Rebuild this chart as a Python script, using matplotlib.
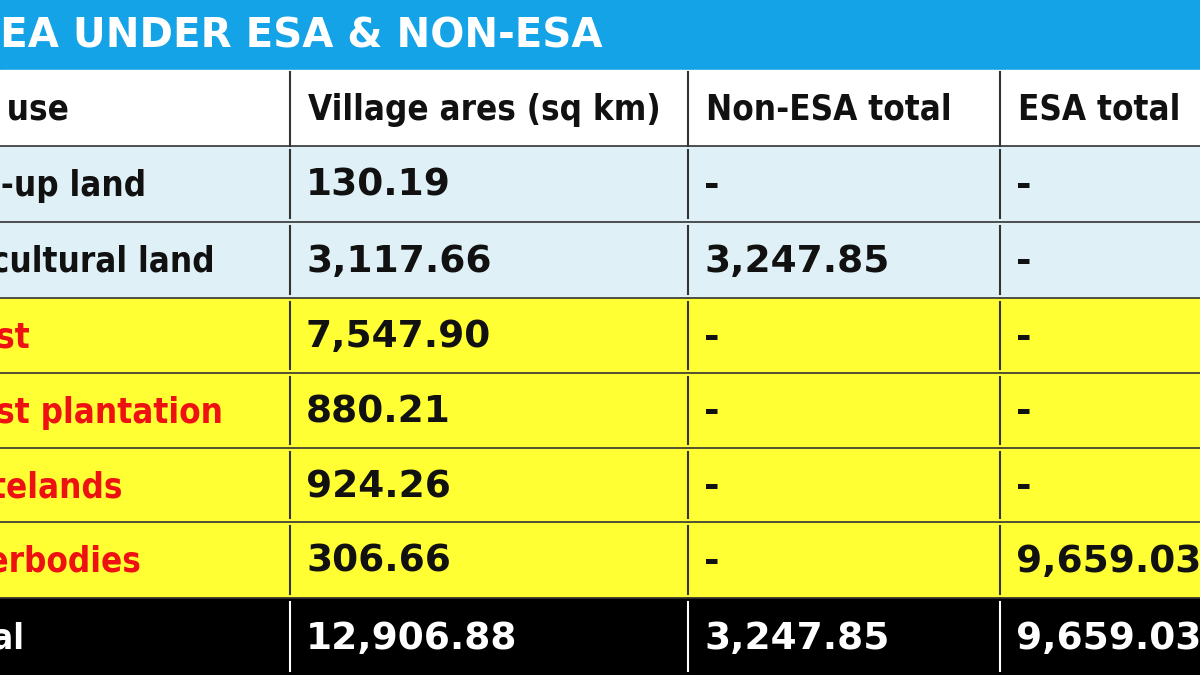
import matplotlib.pyplot as plt
from matplotlib.patches import Rectangle

title = "AREA UNDER ESA & NON-ESA"
headers = ["Land use", "Village ares (sq km)", "Non-ESA total", "ESA total"]
land_use = ["Built-up land", "Agricultural land", "Forest", "Forest plantation", "Wastelands", "Waterbodies", "Total"]
village = ["130.19", "3,117.66", "7,547.90", "880.21", "924.26", "306.66", "12,906.88"]
non_esa = ["-", "3,247.85", "-", "-", "-", "-", "3,247.85"]
esa = ["-", "-", "-", "-", "-", "9,659.03", "9,659.03"]
row_kind = ["blue", "blue", "yellow", "yellow", "yellow", "yellow", "total"]

fig = plt.figure(figsize=(12, 6.75), dpi=100)
ax = fig.add_axes([0, 0, 1, 1])
ax.set_xlim(0, 1200); ax.set_ylim(675, 0); ax.axis('off')
fc = dict(fontweight='bold', fontstretch='condensed', family='DejaVu Sans')
fn = dict(fontweight='bold', family='DejaVu Sans')

ax.add_patch(Rectangle((0, 0), 1200, 70, color='#14a3e6'))
ax.text(-62, 36, title, color='white', fontsize=29, va='center', ha='left', **fn)

cols = [0, 290, 688, 1000, 1200]
row_tops = [70, 146, 222, 298, 373, 448, 522, 598, 675]
fills = {"blue": '#dff1f6', "yellow": '#ffff33', "total": '#000000'}

ax.add_patch(Rectangle((0, 70), 1200, 76, color='white'))
for i, h in enumerate(headers):
    x = -90 if i == 0 else cols[i] + 18
    ax.text(x, 110, h, fontsize=25, va='center', ha='left', color='#111111', **fc)

for r in range(7):
    y0, y1 = row_tops[r + 1], row_tops[r + 2]
    kind = row_kind[r]
    ax.add_patch(Rectangle((0, y0), 1200, y1 - y0, color=fills[kind]))
    yc = (y0 + y1) / 2 + 2
    tc = 'white' if kind == 'total' else '#111111'
    lc = 'white' if kind == 'total' else ('#ee1111' if kind == 'yellow' else '#111111')
    x0 = -60 if r == 6 else -82
    ax.text(x0, yc, land_use[r], fontsize=25, va='center', ha='left', color=lc, **fc)
    for c, v in zip([1, 2, 3], [village[r], non_esa[r], esa[r]]):
        ax.text(cols[c] + 16, yc, v, fontsize=27, va='center', ha='left', color=tc, **fn)
    lcol = 'white' if kind == 'total' else '#333333'
    for cx in cols[1:4]:
        ax.plot([cx, cx], [y0 + 4, y1 - 4], color=lcol, lw=1.5)
    ax.plot([0, 1200], [y0, y0], color='#333333', lw=1.2)
for cx in cols[1:4]:
    ax.plot([cx, cx], [72, 146], color='#333333', lw=1.5)

fig.savefig('out.png', dpi=100)
